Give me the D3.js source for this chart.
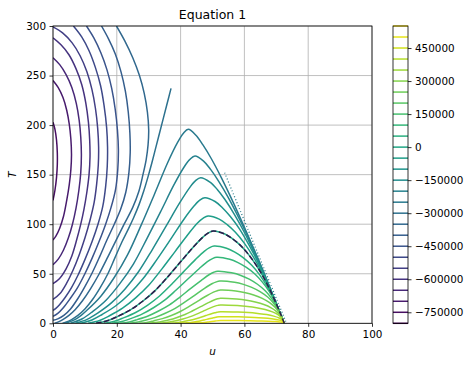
<!DOCTYPE html>
<html><head><meta charset="utf-8">
<script src="https://cdn.jsdelivr.net/npm/d3@7"></script>
<style>
body{margin:0;background:#fff}
svg{display:block}
text{font-family:"DejaVu Sans",sans-serif;fill:#000}
</style>
</head><body>
<svg id="c" width="474" height="366"></svg>
<script>
// ---- axis ticks ----
const xTicks = [0, 20, 40, 60, 80, 100];
const yTicks = [0, 50, 100, 150, 200, 250, 300];
const cbTicks = [-750000, -600000, -450000, -300000, -150000, 0, 150000, 300000, 450000];
// contour levels (colorbar)
const levels = [-800000,-750000,-700000,-650000,-600000,-550000,-500000,-450000,-400000,-350000,-300000,-250000,-200000,-150000,-100000,-50000,0,50000,100000,150000,200000,250000,300000,350000,400000,450000,500000,550000];

// ---- contour lines, [u, T] points ----
const cM750 = [[0,203],[0.6,196],[1.1,185],[1.35,172],[1.35,160],[1.1,147],[0.6,134],[0,124]];
const cM700 = [[0,245],[1.6,238],[3.1,228],[4.3,215],[5.1,201],[5.6,186],[5.8,170],[5.6,155],[5.1,140],[4.3,124],[3.3,108],[2.1,96],[0.9,88],[0,84]];
const cM650 = [[0,268],[2.1,261],[4.1,251],[5.9,238],[7.3,222],[8.2,205],[8.7,188],[8.9,170],[8.7,152],[8.1,134],[7.2,116],[6.1,100],[4.8,86],[3.3,74],[1.7,65],[0,59]];
const cM600 = [[0,288],[2.5,281],[5,271],[7.2,257],[9,241],[10.3,222],[11.1,203],[11.5,185],[11.6,168],[11.3,150],[10.6,132],[9.7,115],[8.7,100],[7.4,84],[5.9,68],[4.1,55],[2,45],[0,40]];
const cM550 = [[0,299],[3,293],[6,283],[8.5,270],[10.6,254],[12.2,236],[13.3,217],[14,197],[14.3,178],[14.2,160],[13.7,141],[12.9,122],[11.6,104],[10,86],[8.2,69],[6.2,53],[4.2,40],[2.2,30],[0,24]];
const cM500 = [[6.4,300],[9,289],[11.3,275],[13.3,258],[14.9,240],[16,220],[16.8,198],[17.1,178],[17,158],[16.5,138],[15.6,118],[14.1,100],[12.2,82],[10.1,65],[7.9,49],[5.8,36],[3.8,26],[2.1,19],[0.9,15],[0,13]];
const cM450 = [[10.5,300],[12.8,288],[15,273],[16.9,256],[18.4,237],[19.5,216],[20.2,195],[20.5,175],[20.3,155],[19.6,135],[18.2,117],[16.5,100],[14.5,83],[12.3,66],[10,50],[7.7,36],[5.4,25],[3.3,16],[1.5,10],[0,7]];
const cM400 = [[15.2,300],[17.4,287],[19.5,272],[21.3,254],[22.7,234],[23.6,213],[24.1,192],[24.2,172],[23.8,152],[22.8,132],[21.2,115],[19.2,100],[16.9,84],[14.6,67],[12.3,51],[10,37],[7.7,24.5],[5.5,14.5],[3.4,8],[1.5,4.5],[0,3]];
const cM350 = [[19.9,300],[22.5,285],[25,268],[27.1,250],[28.6,232],[29.6,213],[30,195],[29.8,180],[29.2,165],[28.2,150],[26.9,133],[25,117],[22.3,100],[19.8,84],[17.2,67],[14.5,50],[11.8,35],[9.3,23],[7,14],[5,8],[3.2,4],[1.5,1.2],[0.5,0]];
const cM300 = [[37,237],[35.8,222],[34.6,207],[33.4,192],[32.2,177],[31,162],[29.8,148],[28.5,134],[27,120],[25.2,106],[23.6,95],[21.6,82],[19.4,66],[17.2,50],[14.8,36],[12.4,24],[10,14.5],[7.8,8],[5.7,3.5],[4,1],[3,0]];
const cM250 = [[4,0],[7.65,5.3],[10.8,13.7],[15,27.4],[19.2,46.2],[23.4,69.3],[27.6,98.8],[31.8,130.3],[35.9,161.8],[39.1,182.8],[40.9,191.8],[42.4,195.7],[44.8,189.8],[47,180],[49.6,166.3],[52.8,146.8],[56.6,121.3],[60.4,93.9],[64.1,66.5],[67.6,39.1],[70.5,15.7],[72.5,0]];
const cM200 = [[5.5,0],[9.2,4.6],[12.4,11.8],[16.7,23.6],[20.9,39.8],[25.2,59.8],[29.4,85.2],[33.7,112.4],[37.9,139.6],[41.1,157.7],[42.9,165.4],[44.5,168.8],[47.2,163.7],[49.4,155.3],[51.9,143.5],[55,126.6],[58.5,104.7],[62,81],[65.2,57.4],[68.25,33.8],[70.8,13.5],[72.5,0]];
const cM150 = [[7,0],[10.7,4],[14,10.3],[18.3,20.6],[22.6,34.7],[26.8,52],[31.1,74.2],[35.4,97.8],[39.7,121.5],[42.9,137.2],[44.7,144],[46.3,146.9],[49.2,142.5],[51.5,135.1],[53.9,124.9],[56.8,110.2],[60.1,91.1],[63.2,70.5],[66.1,49.9],[68.8,29.4],[71,11.75],[72.5,0]];
const cM100 = [[8.5,0],[12.2,3.4],[15.4,8.9],[19.7,17.7],[24,29.9],[28.2,44.9],[32.5,64],[36.8,84.4],[41,104.8],[44.2,118.3],[46,124.2],[47.6,126.7],[50.8,122.9],[53.1,116.6],[55.6,107.7],[58.5,95],[61.5,78.6],[64.4,60.8],[66.9,43.1],[69.3,25.3],[71.2,10.1],[72.5,0]];
const cM50 = [[11,0],[14.6,2.9],[17.7,7.6],[21.8,15.2],[25.9,25.6],[30,38.3],[34.1,54.7],[38.2,72.1],[42.3,89.6],[45.3,101.2],[47.1,106.1],[48.6,108.3],[52.1,105.1],[54.6,99.6],[57.1,92.1],[59.9,81.2],[62.8,67.1],[65.4,52],[67.7,36.8],[69.8,21.7],[71.4,8.7],[72.5,0]];
const c0 = [[13.5,0],[17,2.5],[20,6.5],[24,13],[28,22],[32,33],[36,47],[40,62],[44,77],[47,87],[48.7,91.2],[50.2,93.1],[53.7,90.3],[56.1,85.7],[58.6,79.1],[61.2,69.8],[63.9,57.7],[66.3,44.7],[68.3,31.7],[70.15,18.6],[71.6,7.4],[72.5,0]];
const cP50 = [[16,0],[19.3,2.1],[22.1,5.5],[25.9,10.9],[29.7,18.4],[33.4,27.6],[37.2,39.4],[40.9,51.9],[44.7,64.5],[47.5,72.9],[49.1,76.4],[50.5,78],[54.4,75.7],[57,71.8],[59.6,66.3],[62.3,58.5],[64.9,48.4],[67.1,37.4],[68.95,26.5],[70.5,15.6],[71.7,6.2],[72.5,0]];
const cP100 = [[18.5,0],[21.6,1.8],[24.3,4.7],[27.9,9.3],[31.5,15.7],[35.1,23.6],[38.6,33.6],[42.2,44.4],[45.8,55.1],[48.4,62.2],[50,65.3],[51.3,66.6],[55.4,64.6],[58,61.3],[60.5,56.6],[63.2,50],[65.7,41.3],[67.8,32],[69.4,22.6],[70.8,13.3],[71.8,5.3],[72.5,0]];
const cP150 = [[21,0],[23.9,1.4],[26.4,3.7],[29.8,7.4],[33.1,12.4],[36.5,18.6],[39.8,26.5],[43.1,35],[46.5,43.4],[48.9,49],[50.4,51.5],[51.6,52.5],[56,50.9],[58.9,48.3],[61.5,44.6],[64.1,39.4],[66.6,32.6],[68.5,25.2],[70,17.85],[71.1,10.5],[72,4.2],[72.5,0]];
const cP200 = [[24,0],[26.7,1.2],[29,3],[32.1,6],[35.2,10.1],[38.3,15.1],[41.4,21.6],[44.5,28.4],[47.5,35.3],[49.8,39.9],[51.2,41.8],[52.3,42.7],[56.9,41.4],[59.7,39.3],[62.3,36.3],[64.9,32],[67.3,26.5],[69.1,20.5],[70.4,14.5],[71.4,8.5],[72.05,3.4],[72.5,0]];
const cP250 = [[27,0],[29.4,0.9],[31.5,2.4],[34.3,4.7],[37.1,7.9],[39.9,11.9],[42.7,17],[45.4,22.4],[48.2,27.8],[50.3,31.4],[51.5,32.9],[52.5,33.6],[57.3,32.6],[60.3,30.9],[62.9,28.6],[65.6,25.2],[67.9,20.8],[69.6,16.1],[70.8,11.4],[71.6,6.7],[72.15,2.7],[72.5,0]];
const cP300 = [[30,0],[32.1,0.7],[34,1.8],[36.5,3.5],[38.9,5.9],[41.4,8.9],[43.8,12.7],[46.3,16.8],[48.7,20.8],[50.5,23.5],[51.6,24.7],[52.5,25.2],[57.6,24.4],[60.7,23.2],[63.4,21.4],[66.1,18.9],[68.4,15.6],[70,12.1],[71.1,8.6],[71.85,5],[72.25,2],[72.5,0]];
const cP350 = [[33,0],[34.9,0.5],[36.5,1.3],[38.6,2.6],[40.7,4.4],[42.8,6.5],[45,9.3],[47.1,12.3],[49.2,15.3],[50.8,17.3],[51.7,18.1],[52.5,18.5],[57.8,17.9],[61,17],[63.8,15.7],[66.5,13.9],[68.8,11.5],[70.4,8.9],[71.4,6.3],[72,3.7],[72.3,1.5],[72.5,0]];
const cP400 = [[36,0],[37.6,0.3],[38.9,0.8],[40.7,1.6],[42.5,2.8],[44.3,4.1],[46.1,5.9],[47.9,7.8],[49.7,9.7],[51.1,10.9],[51.8,11.5],[52.5,11.7],[58,11.35],[61.3,10.8],[64.2,9.9],[67,8.8],[69.2,7.25],[70.75,5.6],[71.6,4],[72.2,2.3],[72.4,0.9],[72.5,0]];
const cP450 = [[39.5,0],[40.7,0.2],[41.8,0.5],[43.2,0.9],[44.6,1.6],[46.1,2.4],[47.5,3.4],[48.9,4.5],[50.3,5.5],[51.4,6.3],[52,6.6],[52.5,6.7],[58.2,6.5],[61.6,6.16],[64.5,5.7],[67.3,5],[69.5,4.15],[71,3.2],[71.8,2.3],[72.3,1.3],[72.5,0]];
const cP500 = [[43,0],[44.7,0.2],[46.8,0.66],[48.8,1.4],[50.9,2.3],[52.5,2.8],[58.3,2.7],[61.8,2.58],[64.7,2.38],[67.5,2.1],[69.8,1.74],[71.2,1.34],[72,0.95],[72.5,0]];
const dottedEdge = [[53.8,152],[73.2,0]];

const contourSet = [
  [-750000,cM750],[-700000,cM700],[-650000,cM650],[-600000,cM600],[-550000,cM550],
  [-500000,cM500],[-450000,cM450],[-400000,cM400],[-350000,cM350],[-300000,cM300],
  [-250000,cM250],[-200000,cM200],[-150000,cM150],[-100000,cM100],[-50000,cM50],
  [0,c0],[50000,cP50],[100000,cP100],[150000,cP150],[200000,cP200],[250000,cP250],
  [300000,cP300],[350000,cP350],[400000,cP400],[450000,cP450],[500000,cP500]
];

// ---- layout ----
const L = 53, R = 372, T0 = 26, B = 323.3;
const FS = 10.4;
const svg = d3.select("#c");
const x = d3.scaleLinear().domain([0, 100]).range([L, R]);
const y = d3.scaleLinear().domain([0, 300]).range([B, T0]);
const lvMin = levels[0], lvMax = levels[levels.length - 1];
const col = v => d3.interpolateViridis((v - lvMin) / (lvMax - lvMin));

svg.append("defs").append("clipPath").attr("id", "clip")
  .append("rect").attr("x", L).attr("y", T0).attr("width", R - L).attr("height", B - T0);

// grid
const g = svg.append("g");
g.selectAll("line.gx").data(xTicks).enter().append("line")
  .attr("x1", d => x(d)).attr("x2", d => x(d)).attr("y1", T0).attr("y2", B)
  .attr("stroke", "#b0b0b0").attr("stroke-width", 0.8);
g.selectAll("line.gy").data(yTicks).enter().append("line")
  .attr("y1", d => y(d)).attr("y2", d => y(d)).attr("x1", L).attr("x2", R)
  .attr("stroke", "#b0b0b0").attr("stroke-width", 0.8);

// contours
const line = d3.line().x(d => x(d[0])).y(d => y(d[1])).curve(d3.curveCatmullRom.alpha(0.5));
const cg = svg.append("g").attr("clip-path", "url(#clip)");
cg.selectAll("path.ct").data(contourSet).enter().append("path")
  .attr("d", d => line(d[1])).attr("fill", "none")
  .attr("stroke", d => col(d[0])).attr("stroke-width", 1.5);
// dashed zero contour overlay
cg.append("path").attr("d", line(c0)).attr("fill", "none")
  .attr("stroke", "#2e1a4c").attr("stroke-width", 1.5).attr("stroke-dasharray", "5.5,2.4");
// dotted edge
cg.append("path").attr("d", d3.line().x(d => x(d[0])).y(d => y(d[1]))(dottedEdge))
  .attr("fill", "none").attr("stroke", "#2c7f8c").attr("stroke-width", 1.3)
  .attr("stroke-dasharray", "1,2.2");

// axes
const xAxis = d3.axisBottom(x).tickValues(xTicks).tickSize(3.5).tickPadding(3.5).tickFormat(d3.format("d"));
const yAxis = d3.axisLeft(y).tickValues(yTicks).tickSize(3.5).tickPadding(3.5).tickFormat(d3.format("d"));
const ax = svg.append("g").attr("transform", `translate(0,${B})`).call(xAxis);
const ay = svg.append("g").attr("transform", `translate(${L},0)`).call(yAxis);
[ax, ay].forEach(a => {
  a.select(".domain").remove();
  a.selectAll("line").attr("stroke", "#000").attr("stroke-width", 0.8);
  a.selectAll("text").attr("font-size", FS).attr("font-family", "DejaVu Sans").attr("fill", "#000");
});
svg.append("rect").attr("x", L).attr("y", T0).attr("width", R - L).attr("height", B - T0)
  .attr("fill", "none").attr("stroke", "#000").attr("stroke-width", 0.8);

// labels
svg.append("text").attr("x", (L + R) / 2).attr("y", 19).attr("text-anchor", "middle")
  .attr("font-size", 12.5).text("Equation 1");
svg.append("text").attr("x", (L + R) / 2).attr("y", 355).attr("text-anchor", "middle")
  .attr("font-size", FS).attr("font-style", "italic").text("u");
svg.append("text").attr("transform", `translate(15.5,${(T0 + B) / 2}) rotate(-90)`)
  .attr("text-anchor", "middle").attr("font-size", FS).attr("font-style", "italic").text("T");

// colorbar
const cbL = 393, cbR = 408;
const cy = d3.scaleLinear().domain([lvMin, lvMax]).range([B, T0]);
const cb = svg.append("g");
cb.append("rect").attr("x", cbL).attr("y", T0).attr("width", cbR - cbL).attr("height", B - T0).attr("fill", "#fff");
cb.selectAll("line.lv").data(levels).enter().append("line")
  .attr("x1", cbL).attr("x2", cbR).attr("y1", d => cy(d)).attr("y2", d => cy(d))
  .attr("stroke", d => col(d)).attr("stroke-width", 1.5);
cb.append("rect").attr("x", cbL).attr("y", T0).attr("width", cbR - cbL).attr("height", B - T0)
  .attr("fill", "none").attr("stroke", "#000").attr("stroke-width", 0.8);
const cAxis = d3.axisRight(cy).tickValues(cbTicks).tickSize(3.5).tickPadding(3.5).tickFormat(d3.format("d"));
const ac = svg.append("g").attr("transform", `translate(${cbR},0)`).call(cAxis);
ac.select(".domain").remove();
ac.selectAll("line").attr("stroke", "#000").attr("stroke-width", 0.8);
ac.selectAll("text").attr("font-size", FS).attr("font-family", "DejaVu Sans").attr("fill", "#000");
</script>
</body></html>
